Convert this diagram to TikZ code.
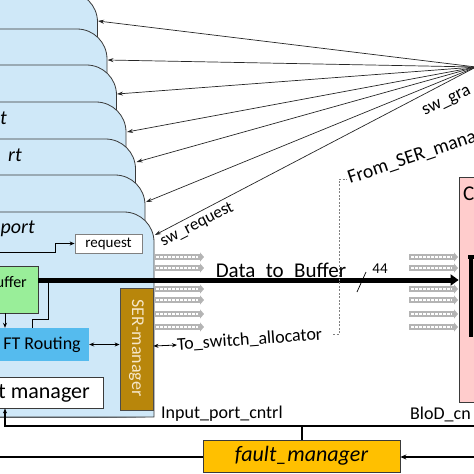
\documentclass[tikz,border=0pt]{standalone}
\usepackage{fontspec}
\setmainfont{Carlito}
\usetikzlibrary{arrows.meta,calc}
\definecolor{portblue}{HTML}{CFE8F8}
\definecolor{edge}{HTML}{3A3A3A}
\definecolor{bufgreen}{HTML}{99EE99}
\definecolor{ftblue}{HTML}{55BBEE}
\definecolor{serbrown}{HTML}{B8860B}
\definecolor{sertext}{HTML}{F5E6C8}
\definecolor{faultor}{HTML}{FFC000}
\definecolor{pinkbox}{HTML}{FFCCCC}
\definecolor{ribbon}{HTML}{B4B4B4}
\newcommand\myfs[1]{\fontsize{#1}{#1}\selectfont}
\tikzset{
  portshape/.style={fill=portblue, draw=edge, line width=0.8pt},
  box/.style={draw=edge, line width=0.8pt, inner sep=0pt},
  arr/.style={-{Stealth[length=5pt,width=4pt]}, line width=0.8pt},
  dbl/.style={{Stealth[length=5pt,width=4pt]}-{Stealth[length=5pt,width=4pt]}, line width=0.8pt},
  fan/.style={-{Stealth[length=6pt,width=4pt]}, line width=0.7pt, draw=black!85},
  ribbonarrow/.style={line width=5.5pt, draw=ribbon, -{Triangle[length=4pt,width=9pt]}},
  ribbondash/.style={line width=1.2pt, draw=white, dash pattern=on 2.5pt off 1.5pt},
  dataline/.style={line width=5pt, -{Triangle[length=8pt,width=11pt]}},
  ctrl/.style={line width=1.2pt},
  dashedlink/.style={draw=gray, line width=0.5pt, dash pattern=on 2pt off 1.5pt},
  lbl/.style={inner sep=0pt}
}
\begin{document}
\begin{tikzpicture}[x=1pt,y=-1pt]
\useasboundingbox (0,0) rectangle (474,474);
\clip (0,0) rectangle (474,474);

% stacked input ports
\foreach \T/\R in {-8/97.5, 29/107, 65/116.5, 102/126, 139/135.5, 175/145, 212/154} {
  \draw[portshape] (-10,417) -- (-10,\T) -- (\R-30,\T)
    .. controls (\R-13.4,\T) and (\R,\T+13.4) .. (\R,\T+30) -- (\R,417) -- cycle;
}
\node[lbl, anchor=east, font=\myfs{20}\itshape] (t4) at (7,118) {t};
\node[lbl, anchor=east, font=\myfs{20}\itshape] (t5) at (22,155) {rt};
\node[lbl, anchor=east, font=\myfs{20}\itshape] (t7) at (35,229) {port};

% fan of switch grants
\coordinate (apex) at (476,67);
\coordinate (p1) at (98,21);
\coordinate (p2) at (107.5,60);
\coordinate (p3) at (117,94);
\coordinate (p4) at (127,132);
\coordinate (p5) at (136.5,162);
\coordinate (p6) at (146,202);
\coordinate (p7) at (155,235);
\foreach \p in {p1,p2,p3,p4,p5,p6,p7} { \draw[fan] (apex) -- (\p); }
\node[lbl, rotate=27, font=\myfs{17}] (swreq) at (197,225) {sw\_request};
\node[lbl, rotate=25.6, font=\myfs{18}] (swgra) at (447,102) {sw\_gra};

% pink block on the right
\node[box, fill=pinkbox, minimum width=30pt, minimum height=225pt] (blod) at (474,289.5) {};
\node[lbl, anchor=west, font=\myfs{21}] (ctxt) at (463,194) {C};
\draw[line width=4pt] (480,257) -- (468,257);
\draw[line width=4pt] (470.5,255) -- (470.5,337);

% boxes inside the port
\node[box, fill=bufgreen, minimum width=43pt, minimum height=47pt] (buf) at (16.5,289.5) {};
\node[lbl, anchor=east, font=\myfs{16}] (buftxt) at (27,282) {uffer};
\node[inner sep=0pt, fill=ftblue, minimum width=94pt, minimum height=33pt, font=\myfs{18}] (ft) at (42,344.5) {FT Routing};
\node[box, fill=white, minimum width=108pt, minimum height=31pt] (mgr) at (49,392.5) {};
\node[lbl, anchor=east, font=\myfs{22}] (mgrtxt) at (90,393) {t manager};
\node[box, fill=white, draw=gray, minimum width=67pt, minimum height=19pt, font=\myfs{15}] (req) at (108.5,243.5) {request};
\node[box, fill=serbrown, draw=gray!60!black, minimum width=33pt, minimum height=122pt] (ser) at (136.5,349) {};
\node[lbl, rotate=-90, text=sertext, font=\myfs{18}] (sertxt) at (136.5,348) {SER-manager};

% request arrow
\coordinate (reqsrc) at (-5,252);
\draw[arr] (reqsrc) -- (55,252) -- (55,243.5) -- (req.west);

% buffer / routing connections
\coordinate (c5) at (5,0);
\coordinate (c32) at (32,0);
\coordinate (tap) at (48,280);
\draw[arr] (buf.south -| c5) -- (ft.north -| c5);
\draw[line width=0.8pt] (tap) -- (48,319) -- (32,319) -- (ft.north -| c32);
\fill (tap) circle[radius=2pt];
\draw[dbl] (ft.east) -- (ser.west |- ft.east);

% ribbons
\foreach \y in {257,268,289,300,314,327} {
  \draw[ribbonarrow] (154,\y) -- (204,\y);
  \draw[ribbondash] (156,\y) -- (198,\y);
  \draw[ribbonarrow] (409,\y) -- (458,\y);
  \draw[ribbondash] (411,\y) -- (452,\y);
}

% data line
\coordinate (dl) at (0,280);
\draw[dataline] (buf.east |- dl) -- (blod.west |- dl);
\node[lbl, anchor=base, font=\myfs{21}] (datatxt) at (281,277) {Data\_to\_Buffer};
\draw[line width=0.7pt] (357,292) -- (366,272);
\node[lbl, font=\myfs{15}] (n44) at (380,269) {44};

% switch allocator links
\node[lbl, anchor=west, rotate=4, font=\myfs{18}] (tsa) at (177,345) {To\_switch\_allocator};
\draw[dbl] (ser.east |- 0,346) -- (tsa.west);
\node[lbl, anchor=base west, rotate=18.6, font=\myfs{19.5}] (fsm) at (350,184) {From\_SER\_mana};
\coordinate (dA) at (333,334);
\coordinate (dB) at (347,179);
\draw[dashedlink] (dA) -- (339,334) -- (339,179) -- (dB);

% control lines
\node[lbl, anchor=west, font=\myfs{18}] (ipc) at (161,414) {Input\_port\_cntrl};
\node[lbl, anchor=west, font=\myfs{18}] (blodc) at (410,414) {BloD\_cn};
\node[box, fill=faultor, minimum width=197pt, minimum height=32pt, font=\myfs{22}\itshape] (fault) at (301.5,456) {fault\_manager};
\coordinate (ctrlR) at (480,426);
\coordinate (c302) at (302,0);
\draw[ctrl, -{Stealth[length=5pt,width=4pt]}] (ctrlR) -- (5,426) -- (mgr.south -| c5);
\draw[ctrl] (fault.north -| c302) -- (302,426);
\coordinate (fl) at (-5,457);
\coordinate (fr) at (480,457);
\draw[ctrl] (fl) -- (fault.west |- fl);
\draw[ctrl, -{Stealth[length=6pt,width=5pt]}] (fr) -- (fault.east |- fr);
\end{tikzpicture}
\end{document}
